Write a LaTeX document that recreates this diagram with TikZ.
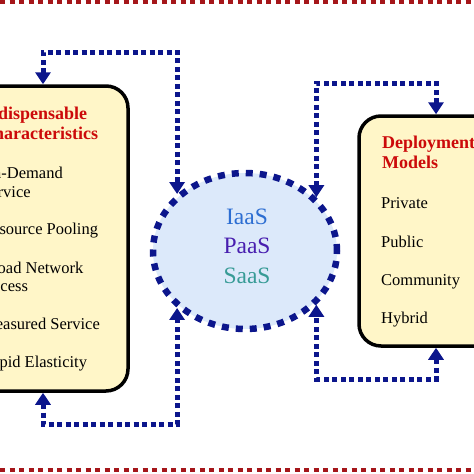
\documentclass[tikz,border=0pt]{standalone}
\usepackage{fontspec}
\setmainfont{Liberation Serif}
\usetikzlibrary{arrows.meta,shapes.geometric}

\definecolor{linkblue}{RGB}{12,22,140}
\definecolor{rulered}{RGB}{165,22,26}
\definecolor{titlered}{RGB}{204,10,10}
\definecolor{boxyellow}{RGB}{255,246,200}
\definecolor{svcblue}{RGB}{220,233,250}
\definecolor{iaascol}{RGB}{45,110,210}
\definecolor{paascol}{RGB}{72,30,175}
\definecolor{saascol}{RGB}{55,155,150}

\tikzset{
  box/.style={draw=black,line width=3.5pt,rounded corners=22pt,fill=boxyellow,inner sep=0pt},
  title/.style={text=titlered,font=\bfseries\fontsize{18}{20}\selectfont,anchor=base west,inner sep=0pt},
  item/.style={font=\fontsize{16.5}{19}\selectfont,anchor=base west,inner sep=0pt},
  svctext/.style={font=\fontsize{23.5}{25}\selectfont,anchor=base,inner sep=0pt},
  link/.style={draw=linkblue,line width=5pt,dash pattern=on 5pt off 3.5pt,<->},
  rule/.style={draw=rulered,line width=4.5pt,dash pattern=on 5pt off 4.5pt}
}

\begin{document}
\begin{tikzpicture}[x=1pt,y=-1pt,>={Triangle[length=12pt,width=15pt]}]
	\useasboundingbox (0,0) rectangle (474,474);
	\clip (0,0) rectangle (474,474);
	\fill[white] (0,0) rectangle (474,474);
	% red rules at top and bottom
	\draw[rule] (0,2) -- (474,2);
	\draw[rule] (0,470) -- (474,470);
	% the two boxes and the service ellipse
	\node[box,minimum width=170pt,minimum height=305pt] (charbox) at (43,238.5) {};
	\node[box,minimum width=154pt,minimum height=230pt] (depbox) at (436,231) {};
	\node[draw=linkblue,fill=svcblue,ellipse,line width=6.5pt,dash pattern=on 7pt off 7pt,
		minimum width=184pt,minimum height=156pt,inner sep=0pt] (svc) at (245,251) {};
	\node[svctext,text=iaascol] (iaas) at (247,224) {IaaS};
	\node[svctext,text=paascol] (paas) at (247,253) {PaaS};
	\node[svctext,text=saascol] (saas) at (247,283) {SaaS};
	% left box texts
	\node[title] (chart1) at (-19,119) {Indispensable};
	\node[title] (chart2) at (-19,139) {Characteristics};
	\node[item] (ondem1) at (-19,178) {On-Demand};
	\node[item] (ondem2) at (-19,197) {Service};
	\node[item] (pool) at (-19,234) {Resource Pooling};
	\node[item] (broad1) at (-19,273) {Broad Network};
	\node[item] (broad2) at (-19,291) {Access};
	\node[item] (meas) at (-19,329) {Measured Service};
	\node[item] (elast) at (-19,367) {Rapid Elasticity};
	% right box texts
	\node[title] (dep1) at (382,148) {Deployment};
	\node[title] (dep2) at (382,168) {Models};
	\node[item] (priv) at (381,208) {Private};
	\node[item] (publ) at (381,247) {Public};
	\node[item] (comm) at (381,285) {Community};
	\node[item] (hybr) at (381,323) {Hybrid};
	% dotted links
	\coordinate (lt) at (43,52);
	\coordinate (lb) at (43,424);
	\coordinate (rt) at (436,83);
	\coordinate (rb) at (436,379);
	\draw[link] (charbox.north) -- (lt) -| (svc.140);
	\draw[link] (charbox.south) -- (lb) -| (svc.220);
	\draw[link] (depbox.north) -- (rt) -| (svc.37);
	\draw[link] (depbox.south) -- (rb) -| (svc.323);
\end{tikzpicture}
\end{document}
